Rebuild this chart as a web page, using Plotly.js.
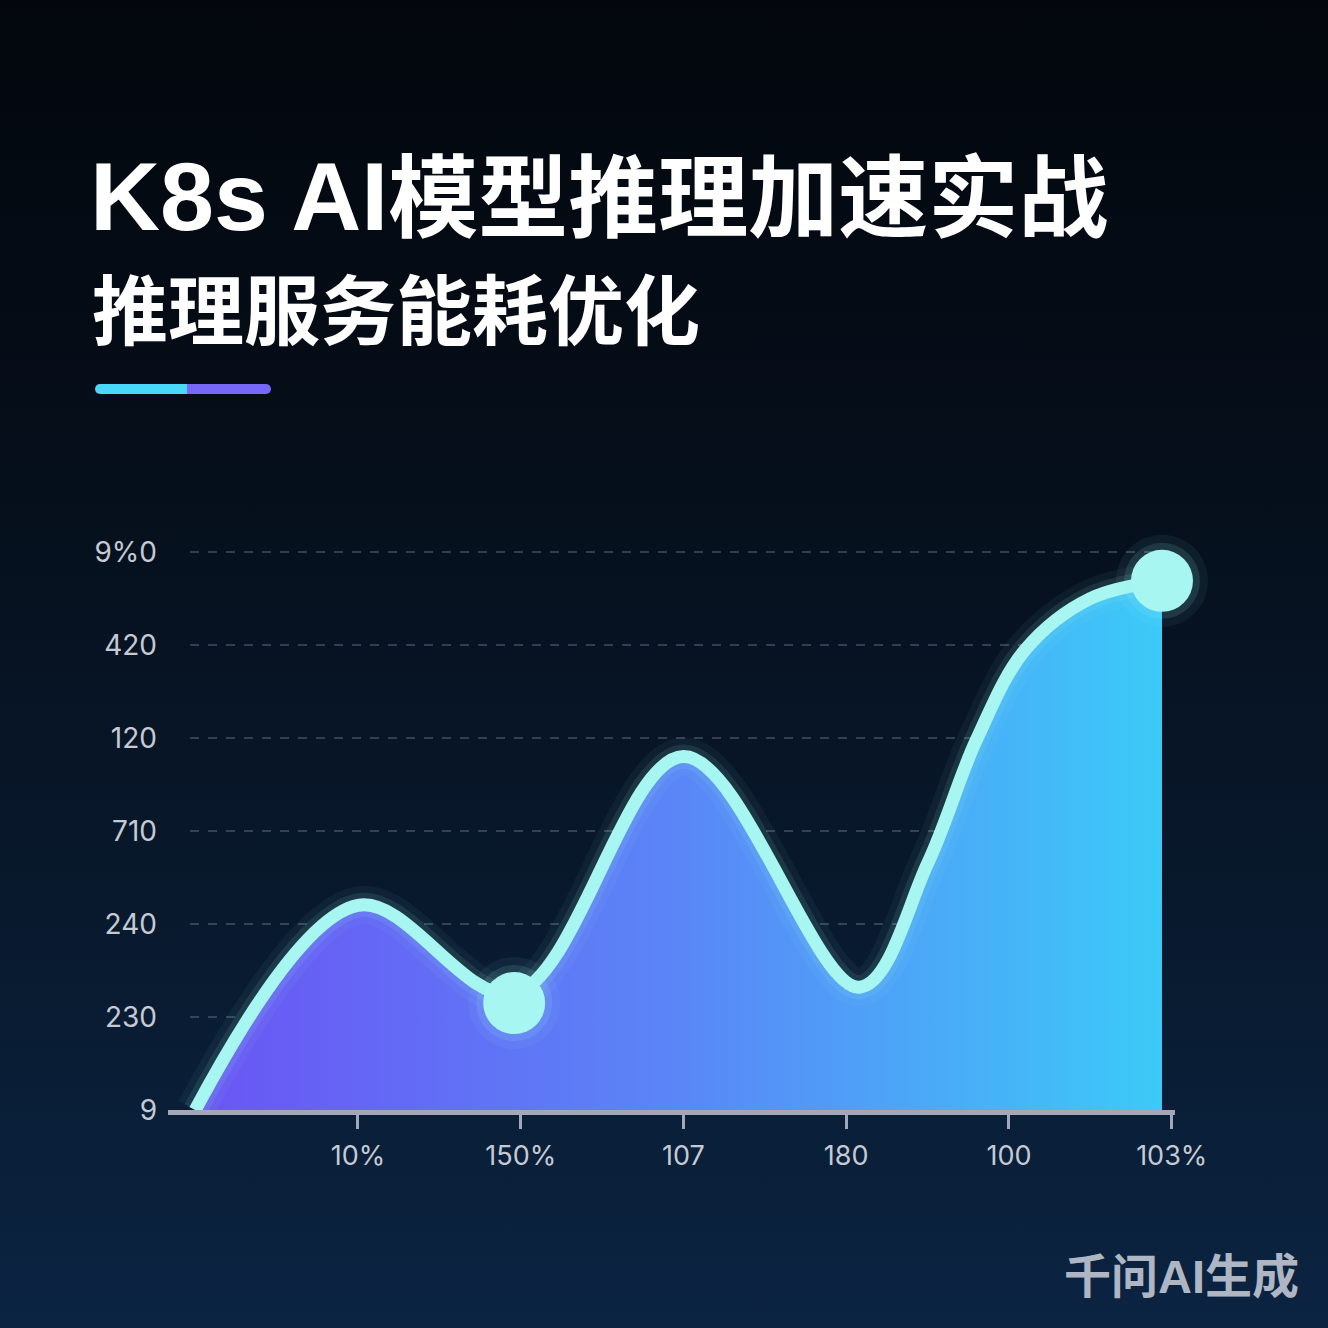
<!DOCTYPE html>
<html>
<head>
<meta charset="utf-8">
<script src="https://cdn.plot.ly/plotly-3.0.1.min.js"></script>
<style>
  html, body { margin: 0; padding: 0; }
  body { width: 1328px; height: 1328px; background: linear-gradient(180deg, #03070d 0%, #050d18 30%, #08182b 65%, #0b2442 100%); }
  #chart { width: 1328px; height: 1328px; }
</style>
</head>
<body>
<div id="chart"></div>
<script>
// ---- data ----
const titleLatin = "K8s AI";
const titleCJK = "模型推理加速实战";
const subtitleText = "推理服务能耗优化";
const watermarkText = "千问AI生成";

const yTickVals = [0, 1, 2, 3, 4, 5, 6];
const yTickText = ["9", "230", "240", "710", "120", "420", "9%0"];

const xTickVals = [1, 2, 3, 4, 5, 6];
const xTickText = ["10%", "150%", "107", "180", "100", "103%"];

const curveX = [0, 1.0, 1.96, 3.0, 4.08, 4.5, 4.8, 5.1, 5.5, 5.94];
const curveY = [0, 2.2, 1.25, 3.8, 1.32, 2.65, 3.98, 4.95, 5.5, 5.69];

const markerX = [1.96, 5.94];
const markerY = [1.15, 5.69];

// ---- figure ----
const W = 1328, H = 1328;
const px = v => v / W;          // pixel -> paper x
const py = v => 1 - v / H;      // pixel -> paper y

const lineColor = "#a8f6f2";
const sp = { shape: "spline", smoothing: 1 };

const traces = [
  { // gradient area
    x: curveX, y: curveY, type: "scatter", mode: "lines",
    line: Object.assign({ width: 0, color: "rgba(0,0,0,0)" }, sp),
    fill: "tozeroy",
    fillgradient: { type: "horizontal", colorscale: [[0, "#6a55f4"], [0.5, "#5a86f7"], [1, "#3ccaf8"]] },
    hoverinfo: "skip", showlegend: false, cliponaxis: false
  },
  { // outer glow
    x: curveX, y: curveY, type: "scatter", mode: "lines",
    line: Object.assign({ width: 38, color: "rgba(150,245,240,0.05)" }, sp),
    hoverinfo: "skip", showlegend: false, cliponaxis: false
  },
  { // inner glow
    x: curveX, y: curveY, type: "scatter", mode: "lines",
    line: Object.assign({ width: 24, color: "rgba(150,245,240,0.10)" }, sp),
    hoverinfo: "skip", showlegend: false, cliponaxis: false
  },
  { // main line
    x: curveX, y: curveY, type: "scatter", mode: "lines",
    line: Object.assign({ width: 13, color: lineColor }, sp),
    hoverinfo: "skip", showlegend: false, cliponaxis: false
  },
  { // marker glow outer
    x: markerX, y: markerY, type: "scatter", mode: "markers",
    marker: { size: 92, color: "rgba(150,245,240,0.06)", line: { width: 0 } },
    hoverinfo: "skip", showlegend: false, cliponaxis: false
  },
  { // marker glow inner
    x: markerX, y: markerY, type: "scatter", mode: "markers",
    marker: { size: 76, color: "rgba(150,245,240,0.12)", line: { width: 0 } },
    hoverinfo: "skip", showlegend: false, cliponaxis: false
  },
  { // markers
    x: markerX, y: markerY, type: "scatter", mode: "markers",
    marker: { size: 62, color: lineColor, line: { width: 0 } },
    hoverinfo: "skip", showlegend: false, cliponaxis: false
  }
];

const gridShapes = yTickVals.slice(1).map(v => ({
  type: "line", xref: "paper", yref: "y",
  x0: px(190), x1: px(1162), y0: v, y1: v,
  line: { color: "rgba(140,150,170,0.45)", width: 1.5, dash: "dash" },
  layer: "below"
}));

const barShapes = [
  { type: "line", xref: "paper", yref: "paper", x0: px(100), x1: px(187), y0: py(389), y1: py(389),
    line: { color: "#48d8fa", width: 10 } },
  { type: "line", xref: "paper", yref: "paper", x0: px(187), x1: px(266), y0: py(389), y1: py(389),
    line: { color: "#7768f7", width: 10 } },
  { type: "circle", xref: "paper", yref: "paper", x0: px(95), x1: px(105), y0: py(394), y1: py(384),
    fillcolor: "#48d8fa", line: { width: 0 } },
  { type: "circle", xref: "paper", yref: "paper", x0: px(261), x1: px(271), y0: py(394), y1: py(384),
    fillcolor: "#7768f7", line: { width: 0 } }
];

const layout = {
  width: W, height: H,
  margin: { l: 0, r: 0, t: 0, b: 0 },
  paper_bgcolor: "rgba(0,0,0,0)",
  plot_bgcolor: "rgba(0,0,0,0)",
  showlegend: false,
  xaxis: {
    domain: [px(168), px(1175)],
    range: [-0.167, 6.02],
    tickmode: "array", tickvals: xTickVals, ticktext: xTickText,
    showgrid: false, zeroline: false,
    showline: true, linecolor: "#a3a7b8", linewidth: 5,
    ticks: "outside", ticklen: 14, tickwidth: 3, tickcolor: "#a3a7b8",
    ticklabelstandoff: 4,
    tickfont: { family: "Inter, Roboto, sans-serif", size: 27, color: "#c5cad4" },
    fixedrange: true
  },
  yaxis: {
    domain: [1 - 1110 / H, 1 - 500 / H],
    range: [0, 610 / 93],
    tickmode: "array", tickvals: yTickVals, ticktext: yTickText,
    showgrid: false, zeroline: false, showline: false,
    ticks: "", ticklabelstandoff: 10,
    tickfont: { family: "Inter, Roboto, sans-serif", size: 28, color: "#c5cad4" },
    fixedrange: true
  },
  shapes: gridShapes.concat(barShapes),
  annotations: [
    { text: "<b><span style='font-size:97px'>" + titleLatin + "</span>" + titleCJK + "</b>",
      xref: "paper", yref: "paper", x: px(88), y: py(196),
      xanchor: "left", yanchor: "middle", showarrow: false,
      font: { family: "Liberation Sans, Noto Sans CJK SC", size: 90, color: "#ffffff" } },
    { text: "<b>" + subtitleText + "</b>", xref: "paper", yref: "paper", x: px(90), y: py(306),
      xanchor: "left", yanchor: "middle", showarrow: false,
      font: { family: "Noto Sans CJK SC", size: 76, color: "#ffffff" } },
    { text: "<b>" + watermarkText + "</b>", xref: "paper", yref: "paper", x: px(1301), y: py(1276),
      xanchor: "right", yanchor: "middle", showarrow: false,
      font: { family: "Liberation Sans, Noto Sans CJK SC", size: 47, color: "#aeb6c4" } }
  ]
};

Plotly.newPlot("chart", traces, layout, { displayModeBar: false, staticPlot: true });
</script>
</body>
</html>
